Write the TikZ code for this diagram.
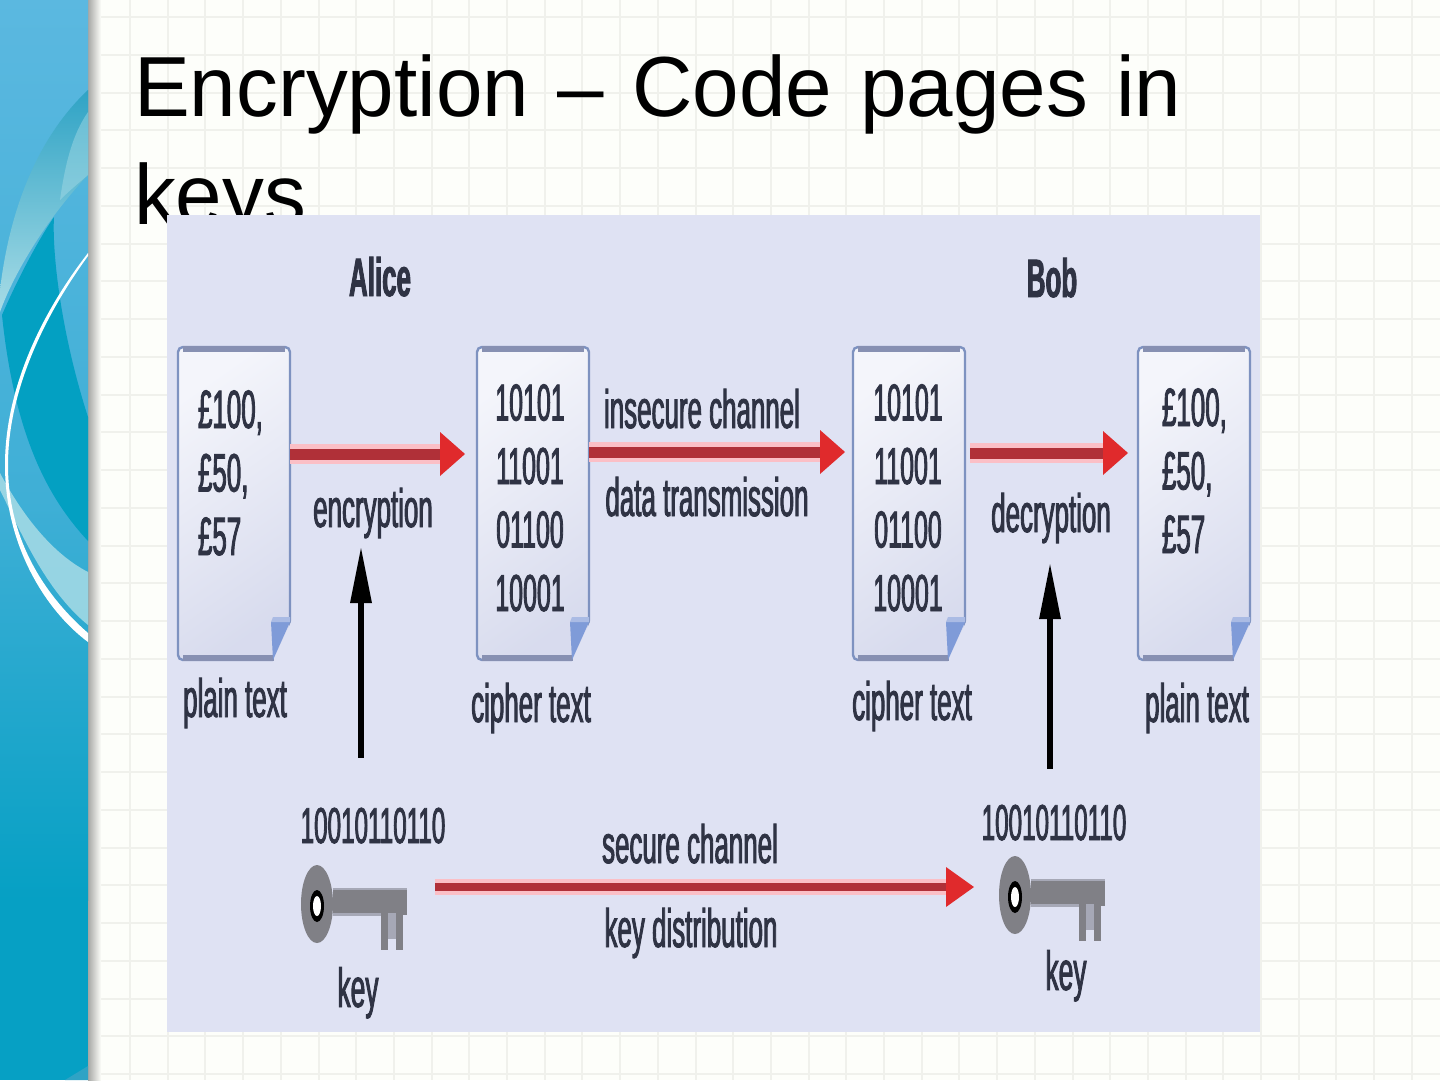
\documentclass[tikz,border=0pt]{standalone}
\usepackage{fontspec}
\usepackage{tikz}
\usetikzlibrary{arrows.meta,shapes.geometric,calc}
\setmainfont{Liberation Sans}
\newfontfamily\cnd[FakeStretch=0.48,FakeBold=1.6]{Liberation Sans}
\newfontfamily\ttl[FakeStretch=0.98,WordSpace=1.22]{Liberation Sans}
\definecolor{bgc}{HTML}{FDFEFA}
\definecolor{gridc}{HTML}{F0F1EC}
\definecolor{panelc}{HTML}{DFE2F3}
\definecolor{labc}{HTML}{2F3344}
\definecolor{edgec}{HTML}{8790B2}
\definecolor{sidec}{HTML}{7E92C0}
\definecolor{foldc}{HTML}{7F9BD8}
\definecolor{corec}{HTML}{B03038}
\definecolor{haloc}{HTML}{FBBFC6}
\definecolor{headc}{HTML}{E02A2C}
\definecolor{keyc}{HTML}{808086}
\definecolor{keyl}{HTML}{A6A8B6}
\definecolor{sa}{HTML}{5BB8E0}
\definecolor{sb}{HTML}{3FAFD6}
\definecolor{sc}{HTML}{06A0C4}
\definecolor{sd}{HTML}{03A0C2}
\definecolor{se}{HTML}{2FA3C5}
\definecolor{sf}{HTML}{A8DCE6}
\tikzset{
  lab/.style={font=\cnd\fontsize{54}{64}\selectfont, text=labc, inner sep=0pt, outer sep=0pt, anchor=base},
  numlab/.style={font=\cnd\fontsize{52}{63.5}\selectfont, text=labc, inner sep=0pt, outer sep=0pt, anchor=base, align=center},
  keynum/.style={font=\cnd\fontsize{50.5}{60}\selectfont, text=labc, inner sep=0pt, outer sep=0pt, anchor=base},
  keylab/.style={font=\cnd\fontsize{55}{60}\selectfont, text=labc, inner sep=0pt, outer sep=0pt, anchor=base},
  moneylab/.style={font=\cnd\fontsize{54}{63.5}\selectfont, text=labc, inner sep=0pt, outer sep=0pt, anchor=base west, align=left},
  heading/.style={font=\cnd\bfseries\fontsize{54}{64}\selectfont, text=labc, inner sep=0pt, outer sep=0pt, anchor=base},
  docbox/.style={rectangle, minimum width=112pt, minimum height=313pt, inner sep=0pt, outer sep=0pt,
    rounded corners=5pt, draw=sidec, line width=2.4pt, shading=axis, left color=white!65!panelc, right color=panelc!92!edgec, shading angle=35},
  redarrow/.style={draw=haloc, line width=4.5pt, double=corec, double distance=11pt,
    -{Triangle[length=25pt 0 0,width=44pt 0 0,color=headc,fill=headc,line width=0pt]}},
  keyarrow/.style={draw=haloc, line width=4pt, double=corec, double distance=8pt,
    -{Triangle[length=28pt 0 0,width=40pt 0 0,color=headc,fill=headc,line width=0pt]}},
  blackarrow/.style={draw=black, line width=5.5pt,
    -{Triangle[length=55pt 0 0,width=22pt 0 0,color=black,fill=black,line width=0pt]}},
  keybow/.style={ellipse, fill=keyc, minimum width=32pt, minimum height=78pt, inner sep=0pt, outer sep=0pt},
  keyshaft/.style={rectangle, fill=keyc, minimum width=74pt, minimum height=27pt, inner sep=0pt, outer sep=0pt}
}
\newcommand{\docfold}[1]{%
  \fill[panelc] ($(#1.south east)+(-17,0)$) -- ($(#1.south east)+(2,-40)$) -- ($(#1.south east)+(2,2)$) -- ($(#1.south east)+(-17,2)$) -- cycle;
  \draw[edgec,line width=6pt] ($(#1.north west)+(5,2)$) -- ($(#1.north east)+(-5,2)$);
  \draw[edgec,line width=6pt] ($(#1.south west)+(5,-2)$) -- ($(#1.south east)+(-16,-2)$);
  \fill[foldc] ($(#1.south east)+(-19,-38)$) -- ($(#1.south east)+(0,-38)$) -- ($(#1.south east)+(-17,0)$) -- cycle;
  \fill[foldc!55!panelc] ($(#1.south east)+(-19,-38)$) -- ($(#1.south east)+(-17,-43)$) -- ($(#1.south east)+(0,-43)$) -- ($(#1.south east)+(0,-38)$) -- cycle;
}
\newcommand{\keyicon}[3]{% name, bow x, bow y
  \node[keyshaft] (#1s) at (#2+53,#3-2.5) {};
  \fill[keyl] (#2+16,#3-16.5) rectangle (#2+90,#3-14);
  \fill[keyl] (#2+16,#3+9) rectangle (#2+64,#3+11.5);
  \fill[keyc] (#2+64,#3+9) rectangle (#2+71,#3+46);
  \fill[keyl] (#2+71,#3+9) rectangle (#2+79,#3+35);
  \fill[keyc] (#2+79,#3+9) rectangle (#2+86,#3+46);
  \node[keybow] (#1b) at (#2,#3) {};
  \fill[black] (#2,#3+2) ellipse [x radius=7pt, y radius=16pt];
  \fill[white] (#2,#3+2) ellipse [x radius=4pt, y radius=10pt];
}
\begin{document}
\begin{tikzpicture}[x=1pt,y=-1pt]
\useasboundingbox (0,0) rectangle (1440,1080);
% page and grid
\fill[bgc] (0,0) rectangle (1440,1080);
\foreach \k in {0,...,34} \draw[gridc,line width=2pt] ({130+37.7*\k},0) -- ({130+37.7*\k},1080);
\foreach \k in {0,...,28} \draw[gridc,line width=2pt] (88,{17+37.75*\k}) -- (1440,{17+37.75*\k});
% sidebar
\shade[left color=black!34!bgc, right color=bgc] (88,0) rectangle (101,1080);
\shade[top color=sa,bottom color=sb] (0,0) rectangle (88,500);
\shade[top color=sb,bottom color=sc] (0,500) rectangle (88,900);
\fill[sc] (0,900) rectangle (88,1080);
% upper swoosh
\shade[top color=se,bottom color=sf] (88,90) .. controls (40,135) and (10,205) .. (0,290) -- (0,312) .. controls (15,270) and (50,215) .. (88,175) -- cycle;
\fill[sf,opacity=.45] (88,112) .. controls (72,135) and (65,165) .. (60,200) .. controls (70,190) and (80,182) .. (88,175) -- cycle;
% dark crescent
\fill[sd] (54,217) .. controls (52,250) and (60,330) .. (88,417) -- (88,541) .. controls (50,500) and (15,440) .. (2,315) .. controls (15,285) and (35,245) .. (54,217) -- cycle;
% lower light band
\fill[sf,opacity=.85] (0,473) .. controls (25,520) and (55,555) .. (88,572) -- (88,625) .. controls (45,590) and (20,530) .. (0,490) -- cycle;
% thin white curve
\fill[white] (88,253) .. controls (40,315) and (5,390) .. (5,465) .. controls (5,545) and (45,610) .. (88,642) -- (88,633) .. controls (50,600) and (8,545) .. (8,465) .. controls (8,390) and (45,315) .. (88,256) -- cycle;
\fill[se] (65,1080) -- (88,1066) -- (88,1080) -- cycle;
% title, cut off by the picture below it
\node[font=\ttl\fontsize{85.3}{108}\selectfont, text=black, inner sep=0pt, anchor=north west, align=left] (title) at (134,54) {Encryption – Code pages in\\keys};
% picture panel
\fill[panelc] (167,215) rectangle (1260,1032);
% documents
\node[docbox] (d1) at (234,503.5) {};
\node[docbox] (d2) at (533,503.5) {};
\node[docbox] (d3) at (909,503.5) {};
\node[docbox] (d4) at (1194,503.5) {};
\docfold{d1}\docfold{d2}\docfold{d3}\docfold{d4}
% headings
\node[heading] (alice) at (380,296) {Alice};
\node[heading] (bob) at (1052,297) {Bob};
% document contents
\node[moneylab] (m1) at (198,555) {£100,\\£50,\\£57};
\node[moneylab] (m2) at (1162,553) {£100,\\£50,\\£57};
\node[numlab] (c1) at (530,611) {10101\\11001\\01100\\10001};
\node[numlab] (c2) at (908,611) {10101\\11001\\01100\\10001};
% captions
\node[lab] (p1) at (235,717) {plain text};
\node[lab] (t1) at (531,722) {cipher text};
\node[lab] (t2) at (912,720) {cipher text};
\node[lab] (p2) at (1197,722) {plain text};
\node[lab] (enc) at (373,527) {encryption};
\node[lab] (dec) at (1051,532) {decryption};
\node[lab] (ins) at (702,428) {insecure channel};
\node[lab] (dat) at (707,516) {data transmission};
\node[lab] (sec) at (690,863) {secure channel};
\node[lab] (kd) at (691,947) {key distribution};
\node[keynum] (n1) at (373,843) {10010110110};
\node[keynum] (n2) at (1054,840) {10010110110};
\node[keylab] (kl1) at (358,1007) {key};
\node[keylab] (kl2) at (1066,990) {key};
% keys
\keyicon{ka}{317}{904}
\keyicon{kb}{1015}{895}
% connectors
\coordinate (ry1) at (0,454);
\coordinate (ry2) at (0,452);
\coordinate (ry3) at (0,453);
\coordinate (ry4) at (0,887);
\coordinate (ax1) at (361,0);
\coordinate (ax2) at (1050,0);
\draw[redarrow,shorten >=12pt] (d1.east |- ry1) -- (d2.west |- ry1);
\draw[redarrow,shorten >=8pt] (d2.east |- ry2) -- (d3.west |- ry2);
\draw[redarrow,shorten >=10pt,shorten <=5pt] (d3.east |- ry3) -- (d4.west |- ry3);
\draw[keyarrow,shorten <=28pt,shorten >=25pt] (kas.east |- ry4) -- (kbb.west |- ry4);
\draw[blackarrow,shorten <=50pt,shorten >=10pt] (ax1 |- n1.north) -- (ax1 |- enc.south);
\draw[blackarrow,shorten <=36pt,shorten >=21pt] (ax2 |- n2.north) -- (ax2 |- dec.south);
\end{tikzpicture}
\end{document}
